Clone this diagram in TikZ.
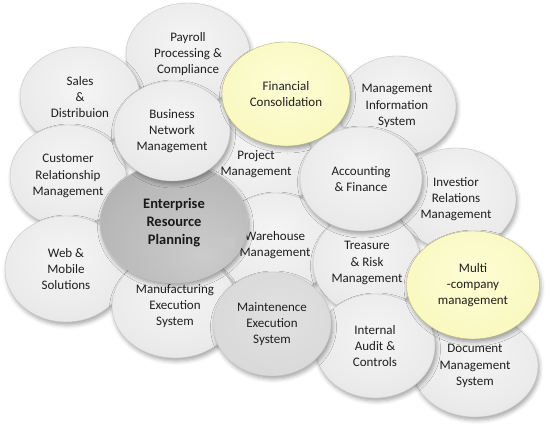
\documentclass[tikz,border=0pt]{standalone}
\usepackage{fontspec}
\setmainfont{Carlito}
\usetikzlibrary{shapes.geometric,shadows.blur}
\definecolor{ylA}{HTML}{FDFDD6}
\definecolor{ylB}{HTML}{F9F8BE}
\definecolor{ylC}{HTML}{E6E4A2}
\pgfdeclareradialshading{orbgray}{\pgfpoint{0bp}{6bp}}{color(0bp)=(black!4); color(25bp)=(black!8); color(42bp)=(black!15); color(54bp)=(black!27); color(70bp)=(black!32)}
\pgfdeclareradialshading{orbyellow}{\pgfpoint{0bp}{6bp}}{color(0bp)=(ylA); color(30bp)=(ylB); color(48bp)=(ylB); color(56bp)=(ylC); color(70bp)=(ylC)}
\pgfdeclareradialshading{orbdark}{\pgfpoint{10bp}{-14bp}}{color(0bp)=(black!20); color(30bp)=(black!28); color(50bp)=(black!36); color(65bp)=(black!44); color(80bp)=(black!46)}
\pgfdeclareradialshading{orbmid}{\pgfpoint{4bp}{4bp}}{color(0bp)=(black!12); color(30bp)=(black!15); color(46bp)=(black!21); color(58bp)=(black!30); color(70bp)=(black!32)}
\begin{document}
\begin{tikzpicture}[x=1pt,y=-1pt,
  orb/.style={ellipse, inner sep=0pt, align=center, shading=orbgray,
    font=\fontsize{13}{16.3}\selectfont, text=black!88,
    draw=black!22, line width=0.4pt,
    blur shadow={shadow xshift=1.5pt, shadow yshift=-3pt, shadow blur radius=4pt, shadow opacity=35}},
  yorb/.style={orb, shading=orbyellow, draw=ylC!80!black},
  dorb/.style={orb, shading=orbdark},
  morb/.style={orb, shading=orbmid}]
\useasboundingbox (0,0) rectangle (550,429);
\node[orb, minimum width=116pt, minimum height=100pt] (proj) at (256,164) {Project\\Management};
\node[orb, minimum width=124pt, minimum height=102pt] (pay) at (188,54) {Payroll\\Processing \&\\Compliance};
\node[orb, minimum width=120pt, minimum height=100pt] (sales) at (80,97) {Sales\\\&\\Distribuion};
\node[orb, minimum width=116pt, minimum height=102pt] (crm) at (68,176) {Customer\\Relationship\\Management};
\node[orb, minimum width=118pt, minimum height=100pt] (mis) at (397,106) {Management\\Information\\System};
\node[orb, minimum width=120pt, minimum height=102pt] (inv) at (456,199) {Investior\\Relations\\Management};
\node[orb, minimum width=122pt, minimum height=106pt] (web) at (66,269) {Web \&\\Mobile\\Solutions};
\node[orb, minimum width=116pt, minimum height=104pt] (wh) at (275,245) {Warehouse\\Management};
\node[orb, minimum width=108pt, minimum height=102pt] (tr) at (367,263) {Treasure\\\& Risk\\Management};
\node[orb, minimum width=126pt, minimum height=102pt] (doc) at (475,366) {Document\\Management\\System};
\node[orb, minimum width=120pt, minimum height=104pt] (ia) at (375,346) {Internal\\Audit \&\\Controls};
\node[orb, minimum width=126pt, minimum height=104pt] (mes) at (175,306) {Manufacturing\\Execution\\System};
\node[dorb, minimum width=148pt, minimum height=120pt, font=\fontsize{14.5}{18}\selectfont\bfseries, text=black!90] (erp) at (174,223) {Enterprise\\Resource\\Planning};
\fill[black!22] (207,237) rectangle (235,247);
\node[orb, minimum width=116pt, minimum height=100pt] (bn) at (172,131) {Business\\Network\\Management};
\node[yorb, minimum width=128pt, minimum height=104pt] (fin) at (286,94) {Financial\\Consolidation};
\node[orb, minimum width=122pt, minimum height=104pt] (acc) at (361,179) {Accounting\\\& Finance};
\node[morb, minimum width=118pt, minimum height=104pt] (mnt) at (272,324) {Maintenence\\Execution\\System};
\node[yorb, minimum width=133pt, minimum height=108pt] (multi) at (473,285) {Multi\\-company\\management};
\end{tikzpicture}
\end{document}
